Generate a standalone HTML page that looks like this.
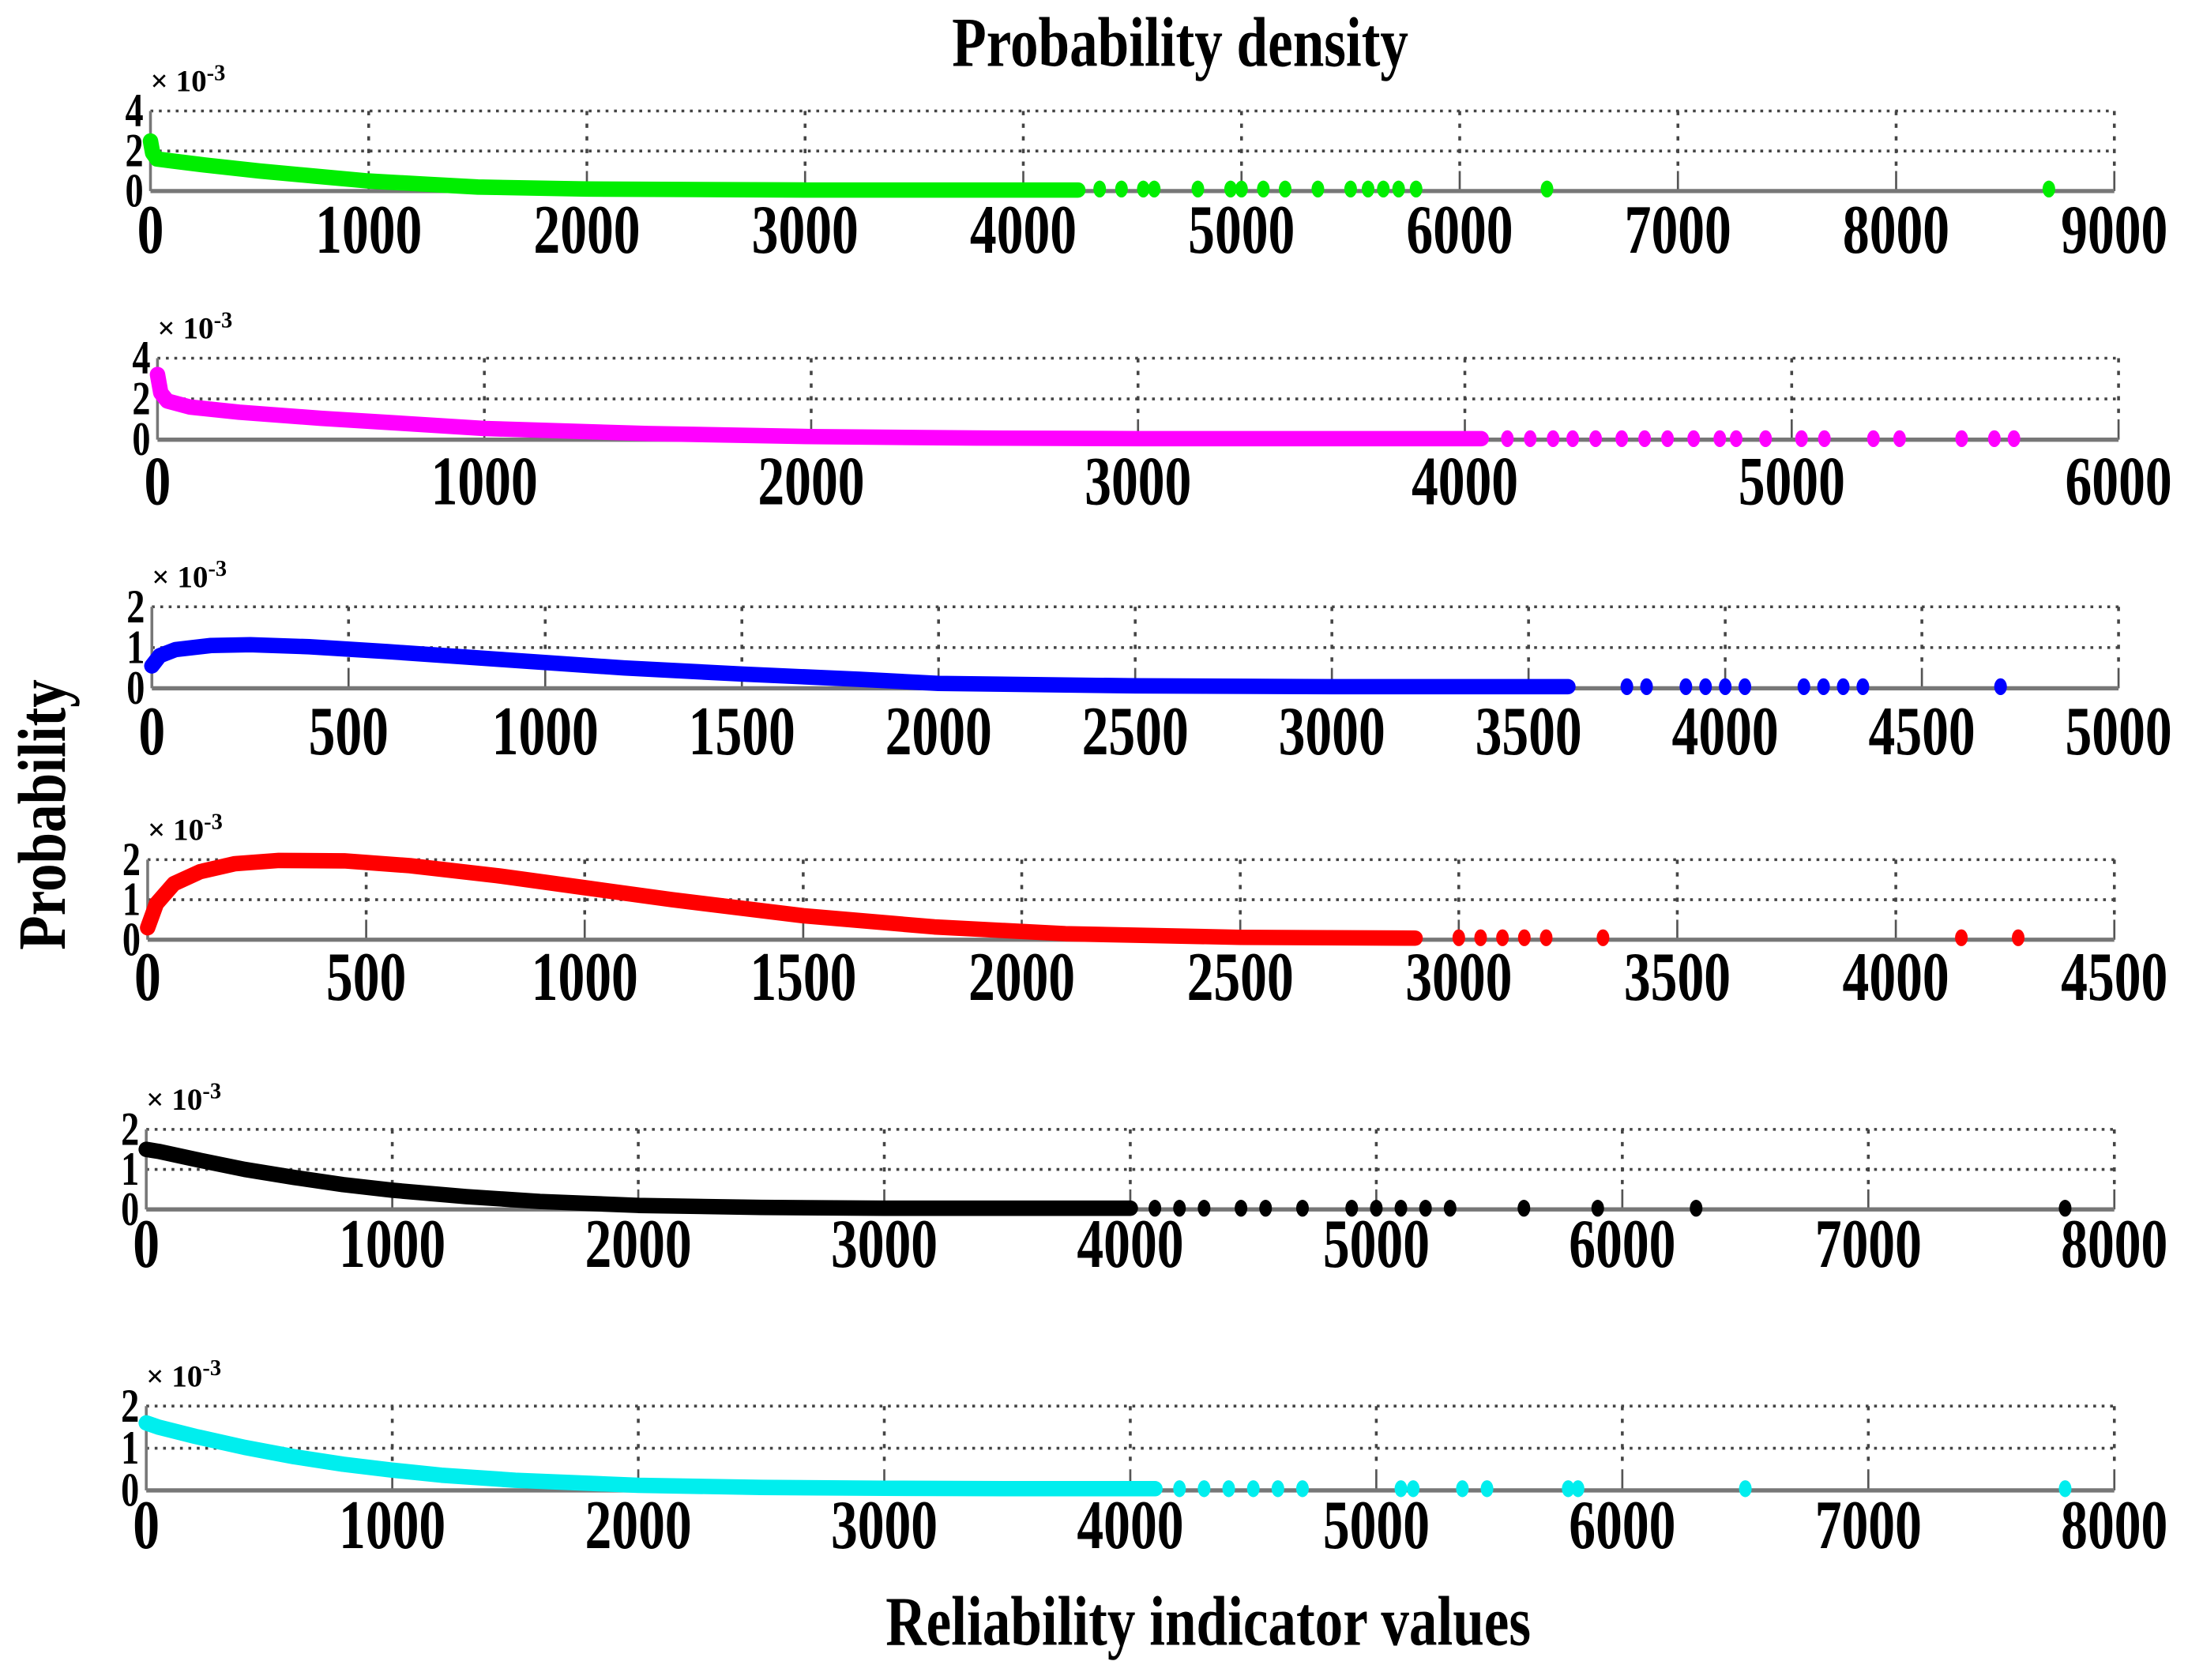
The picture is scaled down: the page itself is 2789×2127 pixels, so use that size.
<!DOCTYPE html>
<html><head><meta charset="utf-8">
<style>
html,body{margin:0;padding:0;background:#fff;}
svg{display:block;}
text{font-family:"Liberation Serif",serif;font-weight:bold;fill:#000;}
</style></head>
<body>
<svg id="chart" width="2789" height="2127" viewBox="0 0 1568 1196" xmlns="http://www.w3.org/2000/svg">
<text x="0" y="0" font-size="40" text-anchor="middle" transform="translate(840,47) scale(1,1.25)">Probability density</text>
<text x="0" y="0" font-size="40" text-anchor="middle" transform="translate(46,580) rotate(-90) scale(1,1.2)">Probability</text>
<text x="0" y="0" font-size="40" text-anchor="middle" transform="translate(860,1171) scale(1,1.25)">Reliability indicator values</text>
<g id="panels"></g>
</svg>
<script>
// ---- data (y in units of 1e-3) ----
const xMaxes = [9000, 6000, 5000, 4500, 8000, 8000];
const yMaxes = [4, 4, 2, 2, 2, 2];
const xTickSteps = [1000, 1000, 500, 500, 1000, 1000];
const colors = ['#00ee00', '#ff00ff', '#0000ff', '#ff0000', '#000000', '#00eeee'];

const greenX = [0, 10, 30, 100, 250, 500, 750, 1000, 1250, 1500, 2000, 3000, 4000, 4250];
const greenY = [2.5, 1.9, 1.6, 1.5, 1.3, 1.0, 0.75, 0.5, 0.35, 0.2, 0.1, 0.05, 0.05, 0.05];
const greenOutX = [4350, 4450, 4550, 4600, 4800, 4950, 5000, 5100, 5200, 5350, 5500, 5580, 5650, 5720, 5800, 6400, 8700];
const greenOutY = [0.1, 0.1, 0.1, 0.1, 0.1, 0.1, 0.1, 0.1, 0.1, 0.1, 0.1, 0.1, 0.1, 0.1, 0.1, 0.1, 0.1];

const magentaX = [0, 10, 30, 100, 250, 500, 750, 1000, 1500, 2000, 2500, 3000, 3500, 4050];
const magentaY = [3.2, 2.3, 1.9, 1.6, 1.35, 1.05, 0.8, 0.55, 0.3, 0.15, 0.08, 0.05, 0.05, 0.05];
const magentaOutX = [4130, 4200, 4270, 4330, 4400, 4480, 4550, 4620, 4700, 4780, 4830, 4920, 5030, 5100, 5250, 5330, 5520, 5620, 5680];
const magentaOutY = [0.05, 0.05, 0.05, 0.05, 0.05, 0.05, 0.05, 0.05, 0.05, 0.05, 0.05, 0.05, 0.05, 0.05, 0.05, 0.05, 0.05, 0.05, 0.05];

const blueX = [0, 20, 60, 150, 250, 400, 600, 900, 1200, 1500, 1800, 2000, 2500, 3000, 3600];
const blueY = [0.55, 0.8, 0.95, 1.05, 1.07, 1.02, 0.9, 0.7, 0.5, 0.35, 0.22, 0.12, 0.06, 0.04, 0.04];
const blueOutX = [3750, 3800, 3900, 3950, 4000, 4050, 4200, 4250, 4300, 4350, 4700];
const blueOutY = [0.04, 0.04, 0.04, 0.04, 0.04, 0.04, 0.04, 0.04, 0.04, 0.04, 0.04];

const redX = [0, 20, 60, 120, 200, 300, 450, 600, 800, 1000, 1200, 1500, 1800, 2100, 2500, 2900];
const redY = [0.3, 0.9, 1.4, 1.7, 1.9, 1.98, 1.97, 1.85, 1.6, 1.3, 1.0, 0.6, 0.32, 0.15, 0.06, 0.04];
const redOutX = [3000, 3050, 3100, 3150, 3200, 3330, 4150, 4280];
const redOutY = [0.05, 0.05, 0.05, 0.05, 0.05, 0.05, 0.05, 0.05];

const blackX = [0, 50, 200, 400, 600, 800, 1000, 1300, 1600, 2000, 2500, 3000, 3500, 4000];
const blackY = [1.5, 1.45, 1.25, 1.0, 0.8, 0.62, 0.48, 0.32, 0.2, 0.1, 0.05, 0.03, 0.03, 0.03];
const blackOutX = [4100, 4200, 4300, 4450, 4550, 4700, 4900, 5000, 5100, 5200, 5300, 5600, 5900, 6300, 7800];
const blackOutY = [0.03, 0.03, 0.03, 0.03, 0.03, 0.03, 0.03, 0.03, 0.03, 0.03, 0.03, 0.03, 0.03, 0.03, 0.03];

const cyanX = [0, 50, 200, 400, 600, 800, 1000, 1200, 1500, 2000, 2500, 3000, 3500, 4100];
const cyanY = [1.6, 1.5, 1.28, 1.02, 0.8, 0.62, 0.48, 0.36, 0.24, 0.12, 0.07, 0.05, 0.04, 0.04];
const cyanOutX = [4200, 4300, 4400, 4500, 4600, 4700, 5100, 5150, 5350, 5450, 5780, 5820, 6500, 7800];
const cyanOutY = [0.04, 0.04, 0.04, 0.04, 0.04, 0.04, 0.04, 0.04, 0.04, 0.04, 0.04, 0.04, 0.04, 0.04];

const seriesX = [greenX, magentaX, blueX, redX, blackX, cyanX];
const seriesY = [greenY, magentaY, blueY, redY, blackY, cyanY];
const outX = [greenOutX, magentaOutX, blueOutX, redOutX, blackOutX, cyanOutX];
const outY = [greenOutY, magentaOutY, blueOutY, redOutY, blackOutY, cyanOutY];
const names = ['green', 'magenta', 'blue', 'red', 'black', 'cyan'];

// ---- layout ----
const frames = [
  {l:107,r:1505,t:79,b:136,ly:180},
  {l:112,r:1508,t:255,b:313,ly:359},
  {l:108,r:1508,t:432,b:490,ly:537},
  {l:105,r:1505,t:612,b:669,ly:712},
  {l:104,r:1505,t:804,b:861,ly:902},
  {l:104,r:1505,t:1001,b:1061,ly:1102}
];
const NS = 'http://www.w3.org/2000/svg';
const root = document.getElementById('panels');
function mk(tag, attrs, parent){const e=document.createElementNS(NS,tag);for(const k in attrs)e.setAttribute(k,attrs[k]);parent.appendChild(e);return e;}

frames.forEach((f,i)=>{
  const g = mk('g',{},root);
  
  
  const xs = v => f.l + v / xMaxes[i] * (f.r - f.l);
  const ys = v => f.b - v / yMaxes[i] * (f.b - f.t);
  [yMaxes[i], yMaxes[i]/2].forEach(v=>{
    const ln = mk('line',{x1:f.l,x2:f.r,y1:ys(v),y2:ys(v),stroke:'#444','stroke-width':2,'stroke-dasharray':'2 4'},g);
    
    
  });
  for(let v=0; v<=xMaxes[i]+1e-6; v+=xTickSteps[i]){
    if(v>0){
      const gl = mk('line',{x1:xs(v),x2:xs(v),y1:f.t,y2:ys(yMaxes[i]/4),stroke:'#444','stroke-width':2,'stroke-dasharray':'3 6'},g);
      
      
      const tk = mk('line',{x1:xs(v),x2:xs(v),y1:ys(yMaxes[i]/4),y2:f.b,stroke:'#555','stroke-width':1.5},g);
      
      
    }
    const t = mk('text',{x:0,y:0,'font-size':38,'text-anchor':'middle',transform:'translate('+xs(v)+','+f.ly+') scale(1,1.3)'},g);
    t.textContent = v;
    
    
  }
  const ax = mk('line',{x1:f.l,x2:f.r,y1:f.b,y2:f.b,stroke:'#777','stroke-width':3},g);
  
  
  const ay = mk('line',{x1:f.l,x2:f.l,y1:f.t,y2:f.b,stroke:'#777','stroke-width':2},g);
  
  
  [0, yMaxes[i]/2, yMaxes[i]].forEach(v=>{
    const t = mk('text',{x:0,y:0,'font-size':26,'font-weight':'normal','text-anchor':'end',transform:'translate('+(f.l-5)+','+(ys(v)+11)+') scale(1,1.3)'},g);
    t.textContent = v;
    
    
  });
  const ex = mk('text',{x:f.l,y:f.t-14,'font-size':22},g);
  ex.textContent = '× 10';
  
  
  const sup = mk('tspan',{dy:-8,'font-size':16},ex);
  sup.textContent = '-3';
  const pts = seriesX[i].map((x,k)=>xs(x)+','+ys(seriesY[i][k])).join(' ');
  const pl = mk('polyline',{points:pts,fill:'none',stroke:colors[i],'stroke-width':11,'stroke-linejoin':'round','stroke-linecap':'round'},g);
  
  
  outX[i].forEach((x,k)=>{
    const c = mk('ellipse',{cx:xs(x),cy:ys(outY[i][k]),rx:4.5,ry:6,fill:colors[i]},g);
    
    
  });
});
</script>
</body></html>
